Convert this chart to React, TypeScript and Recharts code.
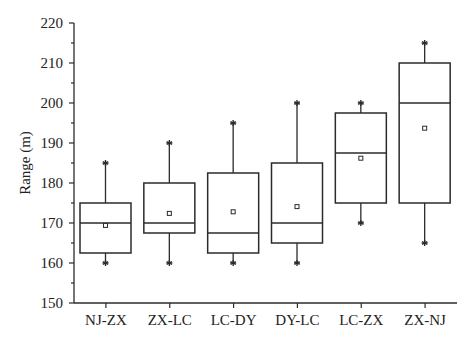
import { Bar, ComposedChart, XAxis, YAxis } from 'recharts';

const routes = ['NJ-ZX', 'ZX-LC', 'LC-DY', 'DY-LC', 'LC-ZX', 'ZX-NJ'];
const minValues = [160, 160, 160, 160, 170, 165];
const q1Values = [162.5, 167.5, 162.5, 165, 175, 175];
const medianValues = [170, 170, 167.5, 170, 187.5, 200];
const q3Values = [175, 180, 182.5, 185, 197.5, 210];
const maxValues = [185, 190, 195, 200, 200, 215];
const meanValues = [169.4, 172.4, 172.8, 174.1, 186.2, 193.7];

const yTicks = [150, 155, 160, 165, 170, 175, 180, 185, 190, 195, 200, 205, 210, 215, 220];

const INK = '#2b2b2b';
const FONT = "'Liberation Serif', 'Times New Roman', Times, serif";

const rows = routes.map((route, i) => ({
  route,
  min: minValues[i],
  q1: q1Values[i],
  median: medianValues[i],
  q3: q3Values[i],
  max: maxValues[i],
  mean: meanValues[i],
}));

type Row = (typeof rows)[number];

function Star({ cx, cy }: { cx: number; cy: number }) {
  const r = 3;
  return (
    <g stroke={INK} strokeWidth={1.4}>
      {[90, 30, 150].map((a) => {
        const dx = r * Math.cos((a * Math.PI) / 180);
        const dy = r * Math.sin((a * Math.PI) / 180);
        return <line key={a} x1={cx - dx} y1={cy - dy} x2={cx + dx} y2={cy + dy} />;
      })}
      <line x1={cx - r} y1={cy} x2={cx + r} y2={cy} />
    </g>
  );
}

// The bar spans min..max; everything else is placed inside that span.
function BoxShape(props: any) {
  const { x, y, width, height, payload } = props as {
    x: number;
    y: number;
    width: number;
    height: number;
    payload: Row;
  };
  const span = payload.max - payload.min;
  const py = (v: number) => y + ((payload.max - v) / span) * height;
  const cx = x + width / 2;
  const top = py(payload.q3);
  const bottom = py(payload.q1);
  return (
    <g>
      <line x1={cx} y1={py(payload.max)} x2={cx} y2={top} stroke={INK} strokeWidth={1.3} />
      <line x1={cx} y1={bottom} x2={cx} y2={py(payload.min)} stroke={INK} strokeWidth={1.3} />
      <rect x={x} y={top} width={width} height={bottom - top} fill="none" stroke={INK} strokeWidth={1.5} />
      <line x1={x} y1={py(payload.median)} x2={x + width} y2={py(payload.median)} stroke={INK} strokeWidth={1.5} />
      <rect x={cx - 2} y={py(payload.mean) - 2} width={4} height={4} fill="#fff" stroke={INK} strokeWidth={1} />
      <Star cx={cx} cy={py(payload.max)} />
      <Star cx={cx} cy={py(payload.min)} />
    </g>
  );
}

function YTick(props: any) {
  const { x, y, payload } = props;
  const major = payload.value % 10 === 0;
  const axisX = x + 11;
  return (
    <g>
      <line x1={axisX - (major ? 5 : 3)} y1={y} x2={axisX} y2={y} stroke={INK} strokeWidth={1.2} />
      {major && (
        <text x={x} y={y} dy={5} textAnchor="end" style={{ fontFamily: FONT }} fontSize={15} fill="#222">
          {payload.value}
        </text>
      )}
    </g>
  );
}

export default function App() {
  return (
    <div style={{ position: 'absolute', left: 0, top: 0, background: '#fff', fontFamily: FONT }}>
      <ComposedChart
        width={474}
        height={346}
        data={rows}
        margin={{ top: 23, right: 17, bottom: 13, left: 0 }}
        barCategoryGap={0}
        style={{ fontFamily: FONT }}
      >
        <XAxis
          dataKey="route"
          height={30}
          axisLine={{ stroke: INK, strokeWidth: 1.3 }}
          tickLine={{ stroke: INK, strokeWidth: 1.2 }}
          tickSize={5}
          tickMargin={6}
          tick={{ fontSize: 15, fill: '#222', style: { fontFamily: FONT } }}
          interval={0}
        />
        <YAxis
          width={74}
          domain={[150, 220]}
          ticks={yTicks}
          interval={0}
          axisLine={{ stroke: INK, strokeWidth: 1.3 }}
          tickLine={false}
          tickSize={5}
          tickMargin={6}
          tick={<YTick />}
          label={{
            value: 'Range (m)',
            angle: -90,
            position: 'insideLeft',
            dx: 20,
            style: { fontFamily: FONT, fontSize: 15, fill: '#222', textAnchor: 'middle' },
          }}
        />
        <Bar
          dataKey={(d: Row) => [d.min, d.max]}
          barSize={51}
          shape={<BoxShape />}
          isAnimationActive={false}
        />
      </ComposedChart>
    </div>
  );
}
